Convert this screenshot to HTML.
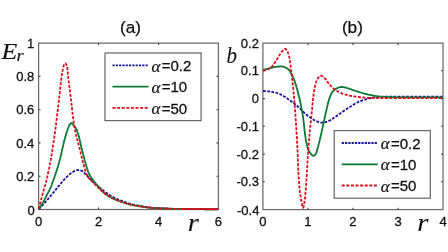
<!DOCTYPE html>
<html><head><meta charset="utf-8"><title>Figure</title>
<style>
html,body{margin:0;padding:0;background:#fff;}
body{width:448px;height:252px;overflow:hidden;}
svg{display:block;}
.tk{font-family:"Liberation Sans",sans-serif;font-size:13px;fill:#111;stroke:#111;stroke-width:.3px;}
.lg{font-family:"Liberation Sans",sans-serif;font-size:15px;fill:#111;stroke:#111;stroke-width:.3px;}
.al{font-family:"Liberation Serif",serif;font-style:italic;font-size:17px;fill:#111;stroke:#111;stroke-width:.2px;}
.tt{font-family:"Liberation Sans",sans-serif;font-size:17.2px;fill:#111;stroke:#111;stroke-width:.25px;}
.mi{font-family:"Liberation Serif",serif;font-style:italic;fill:#111;stroke:#111;stroke-width:.1px;}
</style></head><body>
<svg width="448" height="252" viewBox="0 0 448 252">
<rect width="448" height="252" fill="#fff"/>
<rect x="38.6" y="43.1" width="179.8" height="166.4" fill="none" stroke="#6a6a6a" stroke-width="1.25"/>
<path d="M98.5,209.5v-1.9 M98.5,43.1v1.9 M158.5,209.5v-1.9 M158.5,43.1v1.9 M38.6,176.2h1.9 M218.4,176.2h-1.9 M38.6,142.9h1.9 M218.4,142.9h-1.9 M38.6,109.7h1.9 M218.4,109.7h-1.9 M38.6,76.4h1.9 M218.4,76.4h-1.9 " stroke="#444" stroke-width="1.1" fill="none"/>

<path d="M38.8,209.3 L39.3,208.8 L39.8,208.3 L40.2,207.8 L40.7,207.2 L41.2,206.7 L41.7,206.2 L42.2,205.7 L42.6,205.2 L43.1,204.6 L43.6,204.1 L44.0,203.6 L44.5,203.1 L45.0,202.6 L45.4,202.0 L45.9,201.5 L46.4,201.0 L46.8,200.4 L47.3,199.9 L47.8,199.4 L48.2,198.8 L48.7,198.3 L49.1,197.8 L49.6,197.2 L50.0,196.7 L50.5,196.2 L50.9,195.6 L51.4,195.1 L51.8,194.5 L52.3,194.0 L52.7,193.4 L53.2,192.9 L53.6,192.3 L54.0,191.8 L54.5,191.2 L54.9,190.7 L55.4,190.2 L55.8,189.6 L56.3,189.1 L56.7,188.5 L57.2,188.0 L57.6,187.4 L58.0,186.9 L58.5,186.3 L58.9,185.8 L59.4,185.3 L59.8,184.7 L60.3,184.2 L60.7,183.6 L61.2,183.1 L61.6,182.5 L62.1,182.0 L62.5,181.4 L63.0,180.9 L63.4,180.4 L63.9,179.8 L64.4,179.3 L64.9,178.8 L65.3,178.3 L65.8,177.8 L66.3,177.3 L66.8,176.8 L67.3,176.3 L67.8,175.8 L68.4,175.3 L68.9,174.8 L69.4,174.4 L70.0,174.0 L70.6,173.6 L71.1,173.2 L71.7,172.7 L72.3,172.3 L73.0,171.9 L73.6,171.5 L74.2,171.1 L74.9,170.8 L75.5,170.6 L76.2,170.4 L76.8,170.2 L77.5,170.2 L78.2,170.2 L78.9,170.3 L79.7,170.4 L80.4,170.5 L81.0,170.6 L81.6,170.8 L82.2,171.1 L82.8,171.5 L83.3,172.0 L83.9,172.5 L84.4,173.0 L84.9,173.6 L85.4,174.1 L86.0,174.5 L86.5,175.0 L87.0,175.5 L87.5,176.0 L87.9,176.5 L88.4,177.1 L88.9,177.6 L89.4,178.1 L89.8,178.6 L90.3,179.2 L90.8,179.7 L91.3,180.2 L91.8,180.7 L92.3,181.2 L92.8,181.6 L93.3,182.1 L93.8,182.6 L94.4,183.0 L94.9,183.5 L95.4,184.0 L96.0,184.4 L96.5,184.9 L97.1,185.3 L97.6,185.8 L98.1,186.2 L98.7,186.7 L99.2,187.1 L99.8,187.6 L100.3,188.0 L100.9,188.5 L101.4,188.9 L101.9,189.4 L102.5,189.8 L103.0,190.2 L103.6,190.7 L104.2,191.1 L104.7,191.5 L105.3,191.9 L105.8,192.4 L106.4,192.8 L107.0,193.2 L107.5,193.6 L108.1,194.1 L108.7,194.5 L109.3,194.8 L109.9,195.2 L110.5,195.6 L111.1,195.9 L111.7,196.3 L112.3,196.6 L112.9,196.9 L113.5,197.3 L114.2,197.6 L114.8,197.9 L115.4,198.2 L116.1,198.5 L116.7,198.8 L117.4,199.1 L118.0,199.4 L118.7,199.6 L119.3,199.9 L120.0,200.2 L120.6,200.4 L121.3,200.7 L121.9,201.0 L122.6,201.2 L123.2,201.5 L123.9,201.7 L124.6,202.0 L125.2,202.2 L125.9,202.5 L126.6,202.7 L127.2,202.9 L127.9,203.1 L128.6,203.3 L129.3,203.5 L129.9,203.7 L130.6,203.9 L131.3,204.1 L132.0,204.3 L132.6,204.4 L133.3,204.6 L134.0,204.7 L134.7,204.9 L135.4,205.0 L136.1,205.2 L136.7,205.3 L137.4,205.5 L138.1,205.6 L138.8,205.7 L139.5,205.9 L140.2,206.0 L140.9,206.1 L141.6,206.2 L142.3,206.4 L143.0,206.5 L143.7,206.6 L144.4,206.7 L145.1,206.8 L145.8,206.9 L146.5,207.0 L147.2,207.1 L147.9,207.2 L148.6,207.3 L149.3,207.4 L150.0,207.4 L150.7,207.5 L151.4,207.6 L152.1,207.7 L152.8,207.7 L153.5,207.8 L154.2,207.8 L154.9,207.9 L155.6,207.9 L156.3,208.0 L157.0,208.0 L157.7,208.0 L158.4,208.1 L159.1,208.1 L159.8,208.2 L160.5,208.2 L161.2,208.2 L161.9,208.3 L162.6,208.3 L163.3,208.4 L164.0,208.4 L164.7,208.4 L165.4,208.5 L166.1,208.5 L166.8,208.5 L167.5,208.5 L168.2,208.6 L168.9,208.6 L169.6,208.6 L170.3,208.7 L171.1,208.7 L171.8,208.7 L172.5,208.7 L173.2,208.8 L173.9,208.8 L174.6,208.8 L175.3,208.8 L176.0,208.8 L176.7,208.8 L177.4,208.9 L178.1,208.9 L178.8,208.9 L179.5,208.9 L180.2,208.9 L180.9,208.9 L181.6,208.9 L182.3,208.9 L183.0,208.9 L183.7,208.9 L184.4,209.0 L185.1,209.0 L185.8,209.0 L186.5,209.0 L187.2,209.0 L187.9,209.0 L188.6,209.0 L189.3,209.0 L190.1,209.0 L190.8,209.0 L191.5,209.0 L192.2,209.1 L192.9,209.1 L193.6,209.1 L194.3,209.1 L195.0,209.1 L195.7,209.1 L196.4,209.1 L197.1,209.1 L197.8,209.1 L198.5,209.1 L199.2,209.1 L199.9,209.1 L200.6,209.1 L201.3,209.1 L202.0,209.1 L202.7,209.1 L203.4,209.1 L204.1,209.2 L204.8,209.2 L205.5,209.2 L206.2,209.2 L206.9,209.2 L207.6,209.2 L208.3,209.2 L209.0,209.2 L209.8,209.2 L210.5,209.2 L211.2,209.2 L211.9,209.2 L212.6,209.2 L213.3,209.2 L214.0,209.2 L214.7,209.2 L215.4,209.2 L216.1,209.2 L216.8,209.2 L217.5,209.2 L218.2,209.2" stroke="#14149a" stroke-width="1.8" stroke-dasharray="2.8 1.4" fill="none" stroke-linejoin="round"/>
<path d="M38.8,209.0 L39.2,208.4 L39.6,207.8 L40.0,207.3 L40.4,206.7 L40.8,206.1 L41.2,205.5 L41.5,204.9 L41.9,204.3 L42.3,203.7 L42.6,203.1 L43.0,202.5 L43.3,201.9 L43.7,201.3 L44.0,200.7 L44.4,200.0 L44.7,199.4 L45.0,198.8 L45.3,198.2 L45.7,197.5 L46.0,196.9 L46.3,196.3 L46.6,195.7 L46.9,195.0 L47.2,194.4 L47.6,193.8 L47.9,193.2 L48.2,192.5 L48.5,191.9 L48.8,191.3 L49.1,190.6 L49.5,190.0 L49.8,189.4 L50.1,188.7 L50.3,188.1 L50.6,187.4 L50.9,186.8 L51.2,186.1 L51.4,185.5 L51.7,184.8 L51.9,184.2 L52.1,183.5 L52.4,182.9 L52.6,182.2 L52.9,181.5 L53.1,180.9 L53.3,180.2 L53.6,179.5 L53.8,178.9 L54.0,178.2 L54.3,177.6 L54.5,176.9 L54.7,176.2 L55.0,175.6 L55.2,174.9 L55.4,174.2 L55.7,173.6 L55.9,172.9 L56.1,172.2 L56.3,171.6 L56.6,170.9 L56.8,170.2 L57.0,169.6 L57.2,168.9 L57.4,168.2 L57.6,167.5 L57.8,166.9 L58.0,166.2 L58.2,165.5 L58.4,164.9 L58.6,164.2 L58.8,163.5 L59.0,162.8 L59.2,162.1 L59.4,161.5 L59.5,160.8 L59.7,160.1 L59.9,159.4 L60.1,158.7 L60.2,158.1 L60.4,157.4 L60.6,156.7 L60.7,156.0 L60.9,155.3 L61.0,154.6 L61.2,153.9 L61.4,153.2 L61.5,152.6 L61.7,151.9 L61.8,151.2 L62.0,150.5 L62.2,149.8 L62.3,149.1 L62.5,148.4 L62.6,147.7 L62.8,147.1 L62.9,146.4 L63.1,145.7 L63.3,145.0 L63.4,144.3 L63.6,143.6 L63.7,142.9 L63.9,142.3 L64.1,141.6 L64.2,140.9 L64.4,140.2 L64.6,139.5 L64.8,138.8 L65.0,138.2 L65.1,137.5 L65.3,136.8 L65.5,136.1 L65.7,135.5 L65.9,134.8 L66.1,134.1 L66.3,133.4 L66.5,132.8 L66.7,132.1 L66.9,131.4 L67.1,130.8 L67.4,130.1 L67.6,129.5 L67.8,128.8 L68.1,128.1 L68.3,127.4 L68.6,126.8 L68.9,126.1 L69.2,125.5 L69.5,124.9 L70.0,124.3 L70.5,123.7 L71.0,123.2 L71.5,123.1 L72.1,123.4 L72.6,123.9 L73.1,124.6 L73.6,125.1 L74.1,125.7 L74.5,126.2 L74.9,126.8 L75.3,127.4 L75.7,128.0 L76.0,128.6 L76.4,129.3 L76.7,129.9 L76.9,130.5 L77.2,131.1 L77.4,131.8 L77.6,132.4 L77.9,133.1 L78.1,133.7 L78.3,134.4 L78.5,135.1 L78.7,135.7 L78.9,136.4 L79.0,137.1 L79.2,137.8 L79.4,138.5 L79.5,139.2 L79.7,139.8 L79.9,140.5 L80.0,141.2 L80.2,141.9 L80.3,142.6 L80.5,143.3 L80.7,144.0 L80.8,144.7 L81.0,145.4 L81.1,146.1 L81.3,146.8 L81.4,147.5 L81.6,148.2 L81.8,148.9 L81.9,149.6 L82.1,150.3 L82.3,150.9 L82.5,151.6 L82.6,152.3 L82.8,153.0 L83.0,153.7 L83.2,154.3 L83.3,155.0 L83.5,155.7 L83.7,156.4 L83.9,157.1 L84.0,157.8 L84.2,158.4 L84.4,159.1 L84.6,159.8 L84.7,160.5 L84.9,161.2 L85.1,161.8 L85.3,162.5 L85.5,163.2 L85.7,163.9 L85.9,164.5 L86.1,165.2 L86.3,165.9 L86.5,166.6 L86.7,167.2 L86.9,167.9 L87.1,168.6 L87.3,169.3 L87.6,169.9 L87.8,170.6 L88.0,171.3 L88.3,171.9 L88.5,172.6 L88.8,173.2 L89.1,173.8 L89.4,174.5 L89.7,175.1 L90.0,175.7 L90.4,176.3 L90.8,176.9 L91.2,177.5 L91.6,178.1 L92.0,178.6 L92.4,179.2 L92.8,179.8 L93.2,180.4 L93.7,180.9 L94.1,181.5 L94.5,182.1 L94.9,182.6 L95.3,183.2 L95.8,183.7 L96.2,184.3 L96.7,184.8 L97.1,185.4 L97.6,185.9 L98.0,186.5 L98.5,187.0 L98.9,187.5 L99.4,188.0 L99.9,188.6 L100.3,189.1 L100.8,189.6 L101.3,190.1 L101.8,190.6 L102.3,191.1 L102.8,191.6 L103.3,192.1 L103.8,192.6 L104.3,193.0 L104.9,193.5 L105.4,193.9 L106.0,194.3 L106.6,194.7 L107.2,195.1 L107.8,195.5 L108.4,195.9 L109.0,196.2 L109.6,196.6 L110.2,196.9 L110.8,197.3 L111.4,197.6 L112.1,197.9 L112.7,198.2 L113.3,198.5 L114.0,198.8 L114.6,199.1 L115.3,199.4 L115.9,199.7 L116.5,200.0 L117.2,200.3 L117.9,200.5 L118.5,200.8 L119.2,201.0 L119.8,201.2 L120.5,201.5 L121.1,201.7 L121.8,202.0 L122.5,202.2 L123.1,202.4 L123.8,202.6 L124.5,202.9 L125.2,203.1 L125.8,203.3 L126.5,203.5 L127.2,203.7 L127.9,203.9 L128.5,204.1 L129.2,204.3 L129.9,204.4 L130.6,204.6 L131.3,204.8 L132.0,204.9 L132.6,205.0 L133.3,205.2 L134.0,205.3 L134.7,205.4 L135.4,205.6 L136.1,205.7 L136.8,205.8 L137.5,205.9 L138.1,206.1 L138.8,206.2 L139.5,206.3 L140.2,206.4 L140.9,206.5 L141.6,206.6 L142.3,206.7 L143.0,206.8 L143.7,206.9 L144.4,207.0 L145.1,207.1 L145.8,207.2 L146.5,207.3 L147.2,207.4 L147.9,207.5 L148.6,207.5 L149.3,207.6 L150.0,207.7 L150.7,207.8 L151.4,207.8 L152.1,207.9 L152.8,207.9 L153.5,208.0 L154.2,208.0 L154.9,208.1 L155.6,208.1 L156.3,208.1 L157.0,208.2 L157.7,208.2 L158.4,208.3 L159.1,208.3 L159.8,208.3 L160.5,208.4 L161.2,208.4 L161.9,208.4 L162.6,208.5 L163.3,208.5 L164.1,208.5 L164.8,208.6 L165.5,208.6 L166.2,208.6 L166.9,208.6 L167.6,208.7 L168.3,208.7 L169.0,208.7 L169.7,208.8 L170.4,208.8 L171.1,208.8 L171.8,208.8 L172.5,208.8 L173.2,208.9 L173.9,208.9 L174.6,208.9 L175.3,208.9 L176.0,208.9 L176.7,208.9 L177.4,209.0 L178.1,209.0 L178.8,209.0 L179.5,209.0 L180.2,209.0 L180.9,209.0 L181.6,209.0 L182.3,209.0 L183.0,209.0 L183.7,209.0 L184.4,209.1 L185.1,209.1 L185.9,209.1 L186.6,209.1 L187.3,209.1 L188.0,209.1 L188.7,209.1 L189.4,209.1 L190.1,209.1 L190.8,209.1 L191.5,209.1 L192.2,209.1 L192.9,209.2 L193.6,209.2 L194.3,209.2 L195.0,209.2 L195.7,209.2 L196.4,209.2 L197.1,209.2 L197.8,209.2 L198.5,209.2 L199.2,209.2 L199.9,209.2 L200.6,209.2 L201.3,209.2 L202.0,209.2 L202.7,209.2 L203.4,209.2 L204.1,209.3 L204.8,209.3 L205.5,209.3 L206.2,209.3 L206.9,209.3 L207.6,209.3 L208.4,209.3 L209.1,209.3 L209.8,209.3 L210.5,209.3 L211.2,209.3 L211.9,209.3 L212.6,209.3 L213.3,209.3 L214.0,209.3 L214.7,209.3 L215.4,209.3 L216.1,209.3 L216.8,209.3 L217.5,209.3 L218.2,209.3" stroke="#0b7a35" stroke-width="1.8" fill="none" stroke-linejoin="round"/>
<path d="M38.8,208.8 L39.0,208.1 L39.1,207.4 L39.3,206.8 L39.5,206.1 L39.6,205.4 L39.8,204.7 L40.0,204.0 L40.2,203.3 L40.3,202.7 L40.5,202.0 L40.7,201.3 L40.9,200.6 L41.0,199.9 L41.2,199.3 L41.4,198.6 L41.6,197.9 L41.8,197.2 L42.0,196.6 L42.2,195.9 L42.3,195.2 L42.5,194.5 L42.7,193.9 L42.9,193.2 L43.1,192.5 L43.3,191.8 L43.5,191.1 L43.6,190.5 L43.8,189.8 L44.0,189.1 L44.2,188.4 L44.4,187.8 L44.6,187.1 L44.8,186.4 L45.0,185.7 L45.2,185.1 L45.4,184.4 L45.5,183.7 L45.7,183.0 L45.9,182.3 L46.1,181.7 L46.3,181.0 L46.4,180.3 L46.6,179.6 L46.8,178.9 L46.9,178.3 L47.1,177.6 L47.3,176.9 L47.4,176.2 L47.6,175.5 L47.7,174.8 L47.9,174.2 L48.0,173.5 L48.2,172.8 L48.3,172.1 L48.5,171.4 L48.6,170.7 L48.8,170.0 L48.9,169.3 L49.1,168.7 L49.2,168.0 L49.4,167.3 L49.5,166.6 L49.6,165.9 L49.7,165.2 L49.9,164.5 L50.0,163.8 L50.1,163.1 L50.3,162.5 L50.4,161.8 L50.5,161.1 L50.6,160.4 L50.8,159.7 L50.9,159.0 L51.0,158.3 L51.1,157.6 L51.2,156.9 L51.4,156.2 L51.5,155.5 L51.6,154.8 L51.7,154.1 L51.8,153.5 L51.9,152.8 L52.0,152.1 L52.2,151.4 L52.3,150.7 L52.4,150.0 L52.5,149.3 L52.6,148.6 L52.7,147.9 L52.8,147.2 L52.9,146.5 L53.0,145.8 L53.1,145.1 L53.2,144.4 L53.3,143.7 L53.4,143.0 L53.5,142.3 L53.7,141.6 L53.8,141.0 L53.9,140.3 L54.0,139.6 L54.1,138.9 L54.2,138.2 L54.3,137.5 L54.4,136.8 L54.5,136.1 L54.6,135.4 L54.7,134.7 L54.7,134.0 L54.8,133.3 L54.9,132.6 L55.0,131.9 L55.1,131.2 L55.2,130.5 L55.3,129.8 L55.4,129.1 L55.5,128.4 L55.6,127.7 L55.7,127.0 L55.8,126.3 L55.9,125.6 L56.0,125.0 L56.1,124.3 L56.1,123.6 L56.2,122.9 L56.3,122.2 L56.4,121.5 L56.5,120.8 L56.6,120.1 L56.7,119.4 L56.7,118.7 L56.8,118.0 L56.9,117.3 L57.0,116.6 L57.1,115.9 L57.2,115.2 L57.2,114.5 L57.3,113.8 L57.4,113.1 L57.5,112.4 L57.6,111.7 L57.6,111.0 L57.7,110.3 L57.8,109.6 L57.9,108.9 L58.0,108.2 L58.0,107.5 L58.1,106.8 L58.2,106.1 L58.3,105.4 L58.4,104.7 L58.4,104.0 L58.5,103.3 L58.6,102.6 L58.7,101.9 L58.8,101.2 L58.8,100.5 L58.9,99.8 L59.0,99.1 L59.1,98.4 L59.2,97.7 L59.2,97.0 L59.3,96.3 L59.4,95.6 L59.5,94.9 L59.6,94.3 L59.7,93.6 L59.7,92.9 L59.8,92.2 L59.9,91.5 L60.0,90.8 L60.0,90.1 L60.1,89.4 L60.2,88.7 L60.3,88.0 L60.3,87.3 L60.4,86.6 L60.5,85.9 L60.6,85.2 L60.7,84.5 L60.7,83.8 L60.8,83.1 L60.9,82.4 L61.0,81.7 L61.1,81.0 L61.1,80.3 L61.2,79.6 L61.3,78.9 L61.4,78.2 L61.5,77.5 L61.6,76.8 L61.7,76.1 L61.8,75.4 L61.9,74.7 L62.0,74.0 L62.1,73.3 L62.2,72.6 L62.3,71.9 L62.5,71.3 L62.6,70.6 L62.7,69.9 L62.9,69.2 L63.0,68.5 L63.2,67.8 L63.3,67.1 L63.5,66.4 L63.7,65.7 L63.9,65.1 L64.2,64.5 L64.7,63.8 L65.2,63.3 L65.7,63.5 L66.1,64.2 L66.5,64.8 L66.7,65.5 L66.9,66.1 L67.0,66.8 L67.2,67.5 L67.3,68.2 L67.4,69.0 L67.5,69.6 L67.6,70.3 L67.6,71.0 L67.7,71.7 L67.8,72.4 L67.8,73.1 L67.9,73.8 L68.0,74.5 L68.0,75.2 L68.1,75.9 L68.2,76.6 L68.2,77.3 L68.3,78.0 L68.4,78.7 L68.5,79.4 L68.6,80.1 L68.7,80.8 L68.7,81.5 L68.8,82.2 L68.9,82.9 L69.0,83.6 L69.1,84.3 L69.2,85.0 L69.2,85.7 L69.3,86.4 L69.4,87.1 L69.5,87.8 L69.6,88.5 L69.7,89.2 L69.8,89.9 L69.9,90.6 L70.0,91.3 L70.0,92.0 L70.1,92.7 L70.2,93.4 L70.3,94.1 L70.4,94.8 L70.5,95.5 L70.6,96.2 L70.7,96.9 L70.7,97.6 L70.8,98.3 L70.9,99.0 L71.0,99.7 L71.1,100.3 L71.1,101.0 L71.2,101.7 L71.3,102.4 L71.4,103.1 L71.5,103.8 L71.6,104.5 L71.6,105.2 L71.7,105.9 L71.8,106.6 L71.9,107.3 L72.0,108.0 L72.0,108.7 L72.1,109.4 L72.2,110.1 L72.3,110.8 L72.4,111.5 L72.4,112.2 L72.5,112.9 L72.6,113.6 L72.7,114.3 L72.8,115.0 L72.9,115.7 L73.0,116.4 L73.1,117.1 L73.2,117.8 L73.2,118.5 L73.3,119.2 L73.4,119.9 L73.5,120.6 L73.6,121.3 L73.7,122.0 L73.8,122.7 L73.9,123.4 L74.0,124.1 L74.1,124.8 L74.2,125.5 L74.4,126.1 L74.5,126.8 L74.6,127.5 L74.7,128.2 L74.8,128.9 L74.9,129.6 L75.1,130.3 L75.2,131.0 L75.3,131.7 L75.5,132.3 L75.6,133.0 L75.7,133.7 L75.9,134.4 L76.1,135.1 L76.2,135.8 L76.4,136.4 L76.6,137.1 L76.7,137.8 L76.9,138.5 L77.1,139.2 L77.3,139.8 L77.5,140.5 L77.6,141.2 L77.8,141.9 L78.0,142.6 L78.2,143.2 L78.4,143.9 L78.6,144.6 L78.8,145.3 L78.9,146.0 L79.1,146.6 L79.3,147.3 L79.5,148.0 L79.7,148.7 L79.8,149.4 L80.0,150.0 L80.2,150.7 L80.3,151.4 L80.5,152.1 L80.7,152.8 L80.8,153.5 L81.0,154.1 L81.2,154.8 L81.3,155.5 L81.5,156.2 L81.6,156.9 L81.8,157.6 L82.0,158.2 L82.1,158.9 L82.3,159.6 L82.5,160.3 L82.6,161.0 L82.8,161.7 L83.0,162.3 L83.2,163.0 L83.3,163.7 L83.5,164.4 L83.7,165.0 L83.9,165.7 L84.1,166.4 L84.3,167.1 L84.5,167.8 L84.6,168.5 L84.8,169.1 L85.0,169.8 L85.2,170.5 L85.4,171.2 L85.7,171.8 L85.9,172.5 L86.1,173.1 L86.4,173.8 L86.7,174.4 L87.0,175.0 L87.3,175.7 L87.7,176.3 L88.0,176.9 L88.4,177.5 L88.8,178.1 L89.3,178.6 L89.7,179.2 L90.2,179.7 L90.7,180.2 L91.2,180.7 L91.7,181.1 L92.2,181.6 L92.7,182.1 L93.2,182.6 L93.7,183.1 L94.2,183.6 L94.7,184.1 L95.2,184.6 L95.7,185.1 L96.2,185.6 L96.7,186.0 L97.2,186.5 L97.7,187.0 L98.2,187.5 L98.7,188.0 L99.3,188.5 L99.8,189.0 L100.3,189.5 L100.8,190.0 L101.3,190.5 L101.8,191.0 L102.3,191.5 L102.8,191.9 L103.3,192.4 L103.8,192.9 L104.3,193.3 L104.9,193.8 L105.5,194.2 L106.0,194.6 L106.6,195.0 L107.2,195.4 L107.8,195.7 L108.4,196.1 L109.0,196.5 L109.6,196.8 L110.2,197.1 L110.9,197.5 L111.5,197.8 L112.1,198.1 L112.8,198.4 L113.4,198.7 L114.0,199.0 L114.7,199.2 L115.3,199.5 L116.0,199.8 L116.6,200.1 L117.3,200.3 L117.9,200.6 L118.6,200.8 L119.3,201.0 L119.9,201.3 L120.6,201.5 L121.2,201.8 L121.9,202.0 L122.6,202.2 L123.2,202.4 L123.9,202.7 L124.6,202.9 L125.3,203.1 L125.9,203.3 L126.6,203.5 L127.3,203.7 L128.0,203.9 L128.6,204.1 L129.3,204.3 L130.0,204.5 L130.7,204.6 L131.4,204.8 L132.0,204.9 L132.7,205.1 L133.4,205.2 L134.1,205.3 L134.8,205.5 L135.5,205.6 L136.2,205.7 L136.9,205.8 L137.5,206.0 L138.2,206.1 L138.9,206.2 L139.6,206.3 L140.3,206.4 L141.0,206.5 L141.7,206.6 L142.4,206.7 L143.1,206.8 L143.8,206.9 L144.5,207.0 L145.2,207.1 L145.9,207.2 L146.6,207.3 L147.3,207.4 L148.0,207.5 L148.7,207.6 L149.4,207.6 L150.1,207.7 L150.8,207.8 L151.5,207.8 L152.2,207.9 L152.9,207.9 L153.6,208.0 L154.3,208.0 L155.0,208.1 L155.7,208.1 L156.4,208.1 L157.1,208.2 L157.8,208.2 L158.5,208.3 L159.2,208.3 L159.9,208.3 L160.6,208.4 L161.3,208.4 L162.0,208.4 L162.7,208.5 L163.4,208.5 L164.1,208.5 L164.8,208.6 L165.5,208.6 L166.2,208.6 L166.9,208.7 L167.6,208.7 L168.3,208.7 L169.0,208.7 L169.7,208.8 L170.4,208.8 L171.1,208.8 L171.8,208.8 L172.5,208.8 L173.2,208.9 L173.9,208.9 L174.6,208.9 L175.4,208.9 L176.1,208.9 L176.8,208.9 L177.5,209.0 L178.2,209.0 L178.9,209.0 L179.6,209.0 L180.3,209.0 L181.0,209.0 L181.7,209.0 L182.4,209.0 L183.1,209.0 L183.8,209.1 L184.5,209.1 L185.2,209.1 L185.9,209.1 L186.6,209.1 L187.3,209.1 L188.0,209.1 L188.7,209.1 L189.4,209.1 L190.1,209.1 L190.8,209.1 L191.5,209.1 L192.2,209.1 L192.9,209.2 L193.6,209.2 L194.3,209.2 L195.0,209.2 L195.7,209.2 L196.4,209.2 L197.1,209.2 L197.8,209.2 L198.5,209.2 L199.2,209.2 L199.9,209.2 L200.6,209.2 L201.3,209.2 L202.0,209.2 L202.7,209.2 L203.4,209.2 L204.1,209.3 L204.9,209.3 L205.6,209.3 L206.3,209.3 L207.0,209.3 L207.7,209.3 L208.4,209.3 L209.1,209.3 L209.8,209.3 L210.5,209.3 L211.2,209.3 L211.9,209.3 L212.6,209.3 L213.3,209.3 L214.0,209.3 L214.7,209.3 L215.4,209.3 L216.1,209.3 L216.8,209.3 L217.5,209.3 L218.2,209.3" stroke="#dc0f1c" stroke-width="1.8" stroke-dasharray="3 1.5" fill="none" stroke-linejoin="round"/>
<path d="M184,209.2H218.2" stroke="#c8141c" stroke-width="1.7" fill="none"/>
<rect x="105" y="53" width="96.1" height="67.6" fill="#fff" stroke="#6a6a6a" stroke-width="1.25"/>
<path d="M112.5,65.4h36" stroke="#14149a" stroke-width="1.8" stroke-dasharray="2.2 1.1" fill="none"/>
<text transform="translate(151.6,71.5) scale(1.0,1)" class="al">α</text>
<text x="161.7" y="71.1" class="lg">=0.2</text>
<path d="M112.5,86.7h36" stroke="#0b7a35" stroke-width="1.8" fill="none"/>
<text transform="translate(151.6,92.8) scale(1.0,1)" class="al">α</text>
<text x="161.7" y="92.4" class="lg">=10</text>
<path d="M112.5,107.9h36" stroke="#dc0f1c" stroke-width="1.8" stroke-dasharray="3 1.6" fill="none"/>
<text transform="translate(151.6,114.0) scale(1.0,1)" class="al">α</text>
<text x="161.7" y="113.6" class="lg">=50</text>

<text x="34.8" y="214.8" class="tk" text-anchor="end">0</text>
<text x="34.3" y="180.8" class="tk" text-anchor="end">0.2</text>
<text x="34.3" y="147.5" class="tk" text-anchor="end">0.4</text>
<text x="34.3" y="114.3" class="tk" text-anchor="end">0.6</text>
<text x="34.3" y="81.0" class="tk" text-anchor="end">0.8</text>
<text x="34.3" y="47.7" class="tk" text-anchor="end">1</text>
<text x="38.6" y="225.5" class="tk" text-anchor="middle">0</text>
<text x="98.5" y="225.5" class="tk" text-anchor="middle">2</text>
<text x="158.5" y="225.5" class="tk" text-anchor="middle">4</text>
<text x="218.4" y="225.5" class="tk" text-anchor="middle">6</text>
<text x="130.5" y="32.8" class="tt" text-anchor="middle">(a)</text>
<text transform="translate(1.6,58.8) scale(1.1,1)" class="mi" font-size="23.5">E</text>
<text transform="translate(16.6,61.3) scale(1.12,1)" class="mi" font-size="16.5">r</text>
<text transform="translate(187.8,231) scale(1.1,1)" class="mi" font-size="26">r</text>
<rect x="262.9" y="43.1" width="180.1" height="166.5" fill="none" stroke="#6a6a6a" stroke-width="1.25"/>
<path d="M307.9,209.6v-1.9 M307.9,43.1v1.9 M352.9,209.6v-1.9 M352.9,43.1v1.9 M398.0,209.6v-1.9 M398.0,43.1v1.9 M262.9,181.8h1.9 M443.0,181.8h-1.9 M262.9,154.1h1.9 M443.0,154.1h-1.9 M262.9,126.3h1.9 M443.0,126.3h-1.9 M262.9,98.6h1.9 M443.0,98.6h-1.9 M262.9,70.8h1.9 M443.0,70.8h-1.9 " stroke="#444" stroke-width="1.1" fill="none"/>

<path d="M263.0,91.0 L263.7,91.0 L264.4,91.1 L265.1,91.1 L265.8,91.2 L266.5,91.2 L267.2,91.3 L267.9,91.4 L268.6,91.4 L269.3,91.5 L270.0,91.6 L270.7,91.7 L271.4,91.8 L272.1,91.9 L272.8,92.0 L273.5,92.2 L274.2,92.3 L274.9,92.4 L275.6,92.6 L276.2,92.8 L276.9,93.0 L277.6,93.2 L278.2,93.4 L278.9,93.6 L279.5,93.9 L280.2,94.2 L280.8,94.5 L281.4,94.9 L282.0,95.2 L282.7,95.6 L283.3,95.9 L283.9,96.3 L284.5,96.6 L285.1,97.0 L285.7,97.4 L286.3,97.7 L286.9,98.1 L287.4,98.5 L288.0,99.0 L288.6,99.4 L289.1,99.8 L289.7,100.2 L290.3,100.6 L290.8,101.1 L291.4,101.5 L292.0,101.9 L292.5,102.3 L293.1,102.7 L293.7,103.2 L294.2,103.6 L294.8,104.0 L295.3,104.4 L295.9,104.9 L296.4,105.3 L297.0,105.8 L297.5,106.2 L298.1,106.7 L298.6,107.1 L299.1,107.6 L299.6,108.1 L300.1,108.6 L300.6,109.1 L301.1,109.6 L301.6,110.1 L302.1,110.6 L302.6,111.1 L303.1,111.6 L303.6,112.1 L304.1,112.5 L304.6,113.0 L305.2,113.5 L305.7,113.9 L306.2,114.4 L306.8,114.8 L307.3,115.3 L307.9,115.7 L308.5,116.1 L309.0,116.6 L309.6,117.0 L310.2,117.4 L310.7,117.8 L311.3,118.2 L311.9,118.6 L312.5,119.0 L313.1,119.4 L313.7,119.8 L314.3,120.2 L314.9,120.5 L315.5,120.8 L316.1,121.1 L316.8,121.3 L317.4,121.6 L318.1,121.8 L318.8,122.1 L319.5,122.3 L320.2,122.5 L320.9,122.6 L321.6,122.7 L322.2,122.7 L322.9,122.6 L323.6,122.6 L324.3,122.4 L325.0,122.2 L325.7,122.1 L326.4,121.8 L327.1,121.6 L327.7,121.4 L328.4,121.2 L329.0,120.9 L329.6,120.6 L330.2,120.2 L330.9,119.9 L331.5,119.5 L332.1,119.1 L332.6,118.7 L333.2,118.3 L333.8,117.9 L334.4,117.5 L335.0,117.1 L335.6,116.7 L336.2,116.3 L336.7,115.9 L337.3,115.5 L337.9,115.1 L338.4,114.7 L339.0,114.3 L339.6,113.9 L340.2,113.5 L340.7,113.1 L341.3,112.7 L341.9,112.3 L342.5,111.9 L343.0,111.5 L343.6,111.1 L344.2,110.7 L344.8,110.3 L345.4,109.9 L346.0,109.5 L346.5,109.1 L347.1,108.7 L347.7,108.3 L348.3,107.9 L348.9,107.5 L349.5,107.2 L350.1,106.8 L350.7,106.4 L351.2,106.0 L351.8,105.6 L352.4,105.3 L353.0,104.9 L353.7,104.6 L354.3,104.2 L354.9,103.8 L355.5,103.5 L356.1,103.2 L356.7,102.8 L357.3,102.5 L358.0,102.2 L358.6,101.9 L359.3,101.6 L359.9,101.3 L360.6,101.1 L361.2,100.8 L361.9,100.6 L362.5,100.3 L363.2,100.1 L363.9,99.9 L364.5,99.7 L365.2,99.5 L365.9,99.3 L366.6,99.1 L367.2,98.9 L367.9,98.7 L368.6,98.6 L369.3,98.4 L370.0,98.2 L370.7,98.1 L371.3,97.9 L372.0,97.8 L372.7,97.6 L373.4,97.5 L374.1,97.4 L374.8,97.3 L375.5,97.3 L376.2,97.2 L376.9,97.1 L377.6,97.1 L378.3,97.0 L379.0,96.9 L379.7,96.9 L380.4,96.8 L381.1,96.8 L381.8,96.8 L382.5,96.7 L383.2,96.7 L383.9,96.7 L384.6,96.7 L385.3,96.7 L386.0,96.7 L386.7,96.7 L387.4,96.7 L388.1,96.7 L388.9,96.6 L389.6,96.6 L390.3,96.6 L391.0,96.6 L391.7,96.6 L392.4,96.6 L393.1,96.6 L393.8,96.6 L394.5,96.6 L395.2,96.6 L395.9,96.6 L396.6,96.6 L397.3,96.6 L398.0,96.6 L398.7,96.6 L399.4,96.6 L400.1,96.6 L400.8,96.6 L401.5,96.6 L402.2,96.6 L402.9,96.6 L403.6,96.6 L404.3,96.6 L405.0,96.6 L405.7,96.6 L406.4,96.6 L407.1,96.6 L407.8,96.6 L408.5,96.6 L409.2,96.6 L409.9,96.6 L410.7,96.6 L411.4,96.6 L412.1,96.6 L412.8,96.6 L413.5,96.6 L414.2,96.6 L414.9,96.6 L415.6,96.6 L416.3,96.6 L417.0,96.6 L417.7,96.6 L418.4,96.6 L419.1,96.6 L419.8,96.6 L420.5,96.6 L421.2,96.6 L421.9,96.6 L422.6,96.6 L423.3,96.6 L424.0,96.6 L424.7,96.6 L425.4,96.6 L426.1,96.6 L426.8,96.6 L427.5,96.6 L428.2,96.6 L428.9,96.6 L429.6,96.6 L430.3,96.6 L431.0,96.6 L431.7,96.6 L432.5,96.6 L433.2,96.6 L433.9,96.6 L434.6,96.6 L435.3,96.6 L436.0,96.6 L436.7,96.6 L437.4,96.6 L438.1,96.6 L438.8,96.6 L439.5,96.6 L440.2,96.6 L440.9,96.6 L441.6,96.6 L442.3,96.6 L443.0,96.6" stroke="#14149a" stroke-width="1.8" stroke-dasharray="2.8 1.4" fill="none" stroke-linejoin="round"/>
<path d="M263.0,70.0 L263.7,69.8 L264.4,69.6 L265.0,69.5 L265.7,69.3 L266.4,69.1 L267.1,68.9 L267.8,68.8 L268.4,68.6 L269.1,68.4 L269.8,68.2 L270.5,68.1 L271.2,67.9 L271.8,67.7 L272.5,67.5 L273.2,67.4 L273.9,67.2 L274.6,67.0 L275.3,66.9 L276.0,66.8 L276.7,66.7 L277.4,66.6 L278.1,66.6 L278.8,66.5 L279.5,66.5 L280.2,66.4 L280.9,66.4 L281.5,66.4 L282.3,66.5 L283.0,66.7 L283.7,66.9 L284.4,67.1 L285.1,67.4 L285.7,67.7 L286.4,68.0 L286.9,68.3 L287.5,68.7 L288.0,69.0 L288.5,69.5 L288.9,70.0 L289.4,70.5 L289.8,71.1 L290.3,71.8 L290.6,72.4 L291.0,73.0 L291.4,73.7 L291.7,74.3 L292.0,74.9 L292.3,75.5 L292.6,76.1 L292.9,76.8 L293.2,77.4 L293.4,78.0 L293.7,78.7 L294.0,79.3 L294.2,80.0 L294.4,80.7 L294.7,81.3 L294.9,82.0 L295.1,82.7 L295.4,83.4 L295.6,84.0 L295.8,84.7 L296.0,85.4 L296.2,86.1 L296.4,86.8 L296.6,87.5 L296.8,88.1 L297.0,88.8 L297.2,89.5 L297.4,90.2 L297.5,90.8 L297.7,91.5 L297.9,92.2 L298.1,92.9 L298.3,93.5 L298.4,94.2 L298.6,94.9 L298.8,95.6 L298.9,96.3 L299.1,97.0 L299.3,97.6 L299.4,98.3 L299.6,99.0 L299.7,99.7 L299.9,100.4 L300.0,101.1 L300.2,101.8 L300.3,102.4 L300.5,103.1 L300.6,103.8 L300.8,104.5 L300.9,105.2 L301.0,105.9 L301.2,106.6 L301.3,107.3 L301.4,108.0 L301.6,108.7 L301.7,109.3 L301.8,110.0 L302.0,110.7 L302.1,111.4 L302.2,112.1 L302.3,112.8 L302.5,113.5 L302.6,114.2 L302.7,114.9 L302.8,115.6 L302.9,116.3 L303.0,117.0 L303.1,117.7 L303.2,118.4 L303.3,119.1 L303.4,119.8 L303.5,120.5 L303.6,121.2 L303.6,121.9 L303.7,122.6 L303.8,123.4 L303.9,124.1 L304.0,124.8 L304.0,125.5 L304.1,126.2 L304.2,126.9 L304.3,127.6 L304.4,128.3 L304.4,129.0 L304.5,129.8 L304.6,130.5 L304.7,131.2 L304.8,131.9 L304.9,132.6 L304.9,133.3 L305.0,134.0 L305.1,134.7 L305.2,135.4 L305.3,136.1 L305.4,136.8 L305.5,137.5 L305.6,138.2 L305.7,138.9 L305.8,139.5 L306.0,140.2 L306.1,140.9 L306.2,141.6 L306.3,142.3 L306.5,142.9 L306.6,143.6 L306.8,144.3 L306.9,144.9 L307.1,145.6 L307.2,146.2 L307.4,146.9 L307.6,147.5 L307.8,148.2 L308.0,148.8 L308.2,149.5 L308.5,150.2 L308.8,150.8 L309.2,151.4 L309.6,152.1 L310.0,152.7 L310.4,153.2 L310.8,153.8 L311.3,154.3 L311.8,154.9 L312.4,155.4 L312.9,155.8 L313.5,155.9 L314.1,155.7 L314.7,155.2 L315.2,154.6 L315.7,154.0 L316.0,153.4 L316.3,152.8 L316.6,152.2 L316.8,151.5 L317.0,150.8 L317.2,150.1 L317.3,149.4 L317.5,148.7 L317.7,148.0 L317.9,147.4 L318.1,146.7 L318.2,146.0 L318.4,145.3 L318.6,144.6 L318.8,144.0 L318.9,143.3 L319.1,142.6 L319.3,141.9 L319.4,141.2 L319.6,140.6 L319.8,139.9 L319.9,139.2 L320.1,138.5 L320.3,137.8 L320.4,137.1 L320.6,136.5 L320.7,135.8 L320.9,135.1 L321.0,134.4 L321.2,133.7 L321.4,133.0 L321.5,132.4 L321.7,131.7 L321.8,131.0 L322.0,130.3 L322.1,129.6 L322.3,128.9 L322.4,128.2 L322.6,127.5 L322.7,126.9 L322.9,126.2 L323.0,125.5 L323.2,124.8 L323.3,124.1 L323.4,123.4 L323.6,122.7 L323.7,122.0 L323.9,121.4 L324.0,120.7 L324.2,120.0 L324.3,119.3 L324.5,118.6 L324.6,117.9 L324.8,117.2 L325.0,116.6 L325.1,115.9 L325.3,115.2 L325.4,114.5 L325.6,113.8 L325.7,113.1 L325.9,112.4 L326.1,111.8 L326.2,111.1 L326.4,110.4 L326.5,109.7 L326.7,109.0 L326.8,108.3 L327.0,107.7 L327.1,107.0 L327.3,106.3 L327.5,105.6 L327.6,104.9 L327.8,104.2 L327.9,103.5 L328.1,102.9 L328.3,102.2 L328.5,101.5 L328.7,100.8 L328.9,100.2 L329.1,99.5 L329.3,98.8 L329.5,98.1 L329.7,97.5 L329.9,96.8 L330.2,96.2 L330.5,95.5 L330.8,94.9 L331.1,94.2 L331.5,93.6 L331.8,92.9 L332.2,92.3 L332.7,91.7 L333.1,91.1 L333.6,90.6 L334.0,90.2 L334.5,89.8 L335.0,89.4 L335.6,89.1 L336.2,88.7 L336.9,88.4 L337.5,88.0 L338.2,87.7 L338.9,87.5 L339.6,87.3 L340.4,87.1 L341.0,87.0 L341.7,87.0 L342.4,87.0 L343.1,87.1 L343.8,87.2 L344.5,87.4 L345.2,87.5 L345.9,87.7 L346.6,87.9 L347.2,88.1 L347.9,88.3 L348.6,88.5 L349.3,88.7 L349.9,88.9 L350.6,89.1 L351.3,89.4 L351.9,89.6 L352.6,89.8 L353.2,90.1 L353.9,90.3 L354.6,90.6 L355.2,90.8 L355.9,91.0 L356.6,91.2 L357.2,91.4 L357.9,91.6 L358.6,91.9 L359.2,92.1 L359.9,92.3 L360.6,92.5 L361.3,92.7 L361.9,92.9 L362.6,93.1 L363.3,93.3 L364.0,93.5 L364.6,93.7 L365.3,93.9 L366.0,94.1 L366.7,94.2 L367.4,94.4 L368.0,94.5 L368.7,94.6 L369.4,94.8 L370.1,94.9 L370.8,95.1 L371.5,95.2 L372.2,95.3 L372.9,95.5 L373.6,95.6 L374.2,95.7 L374.9,95.8 L375.6,96.0 L376.3,96.1 L377.0,96.2 L377.7,96.3 L378.4,96.4 L379.1,96.5 L379.8,96.6 L380.5,96.6 L381.2,96.7 L381.9,96.8 L382.6,96.8 L383.3,96.9 L384.0,96.9 L384.7,96.9 L385.4,97.0 L386.1,97.0 L386.8,97.0 L387.5,97.0 L388.2,97.1 L388.9,97.1 L389.6,97.1 L390.3,97.1 L391.0,97.1 L391.7,97.2 L392.4,97.2 L393.1,97.2 L393.8,97.2 L394.5,97.2 L395.2,97.2 L395.9,97.3 L396.6,97.3 L397.4,97.3 L398.1,97.3 L398.8,97.3 L399.5,97.3 L400.2,97.3 L400.9,97.3 L401.6,97.3 L402.3,97.3 L403.0,97.3 L403.7,97.3 L404.4,97.3 L405.1,97.3 L405.8,97.3 L406.5,97.3 L407.2,97.3 L407.9,97.3 L408.6,97.3 L409.3,97.3 L410.0,97.3 L410.7,97.3 L411.4,97.3 L412.1,97.3 L412.8,97.4 L413.5,97.4 L414.2,97.4 L414.9,97.4 L415.6,97.4 L416.3,97.4 L417.0,97.4 L417.7,97.4 L418.4,97.4 L419.1,97.4 L419.8,97.4 L420.5,97.4 L421.2,97.4 L421.9,97.4 L422.6,97.4 L423.3,97.4 L424.0,97.4 L424.7,97.4 L425.4,97.4 L426.1,97.4 L426.8,97.4 L427.5,97.4 L428.3,97.4 L429.0,97.4 L429.7,97.4 L430.4,97.4 L431.1,97.4 L431.8,97.4 L432.5,97.4 L433.2,97.4 L433.9,97.4 L434.6,97.4 L435.3,97.4 L436.0,97.4 L436.7,97.4 L437.4,97.4 L438.1,97.4 L438.8,97.4 L439.5,97.4 L440.2,97.4 L440.9,97.4 L441.6,97.4 L442.3,97.4 L443.0,97.4" stroke="#0b7a35" stroke-width="1.8" fill="none" stroke-linejoin="round"/>
<path d="M263.0,70.7 L263.7,70.6 L264.4,70.4 L265.1,70.3 L265.7,70.1 L266.4,69.9 L267.1,69.6 L267.7,69.3 L268.4,69.0 L269.0,68.7 L269.6,68.3 L270.2,68.0 L270.7,67.6 L271.2,67.2 L271.7,66.7 L272.2,66.2 L272.6,65.7 L273.0,65.1 L273.5,64.6 L273.9,64.0 L274.3,63.4 L274.7,62.8 L275.1,62.2 L275.5,61.5 L275.9,60.9 L276.3,60.3 L276.7,59.7 L277.1,59.1 L277.5,58.5 L277.8,57.9 L278.2,57.3 L278.6,56.7 L278.9,56.1 L279.3,55.5 L279.6,54.9 L280.0,54.3 L280.4,53.7 L280.8,53.1 L281.2,52.5 L281.6,52.0 L282.0,51.5 L282.5,50.9 L283.1,50.3 L283.7,49.8 L284.3,49.3 L284.8,49.0 L285.3,48.9 L285.9,49.1 L286.4,49.6 L286.8,50.3 L287.2,51.0 L287.6,51.6 L287.8,52.3 L288.1,52.9 L288.3,53.5 L288.6,54.2 L288.8,54.9 L288.9,55.6 L289.1,56.3 L289.3,57.0 L289.4,57.7 L289.6,58.4 L289.7,59.1 L289.8,59.8 L289.9,60.4 L290.0,61.1 L290.1,61.8 L290.2,62.5 L290.3,63.2 L290.4,63.9 L290.5,64.6 L290.6,65.3 L290.7,66.0 L290.7,66.7 L290.8,67.4 L290.9,68.1 L291.0,68.8 L291.1,69.5 L291.1,70.2 L291.2,70.9 L291.3,71.6 L291.4,72.3 L291.5,73.0 L291.6,73.7 L291.6,74.4 L291.7,75.1 L291.8,75.8 L291.9,76.5 L292.0,77.2 L292.1,77.9 L292.1,78.6 L292.2,79.3 L292.3,80.0 L292.4,80.7 L292.5,81.4 L292.5,82.1 L292.6,82.8 L292.7,83.5 L292.8,84.2 L292.8,84.9 L292.9,85.6 L293.0,86.3 L293.1,87.0 L293.1,87.7 L293.2,88.4 L293.3,89.0 L293.3,89.7 L293.4,90.4 L293.5,91.1 L293.5,91.8 L293.6,92.5 L293.7,93.2 L293.7,93.9 L293.8,94.6 L293.9,95.3 L293.9,96.0 L294.0,96.7 L294.1,97.4 L294.1,98.1 L294.2,98.8 L294.2,99.5 L294.3,100.2 L294.3,100.9 L294.4,101.6 L294.5,102.3 L294.5,103.0 L294.6,103.7 L294.6,104.4 L294.7,105.1 L294.7,105.8 L294.8,106.5 L294.8,107.2 L294.9,107.9 L295.0,108.6 L295.0,109.3 L295.1,110.0 L295.1,110.7 L295.2,111.4 L295.2,112.1 L295.3,112.8 L295.3,113.5 L295.4,114.2 L295.4,114.9 L295.5,115.6 L295.5,116.3 L295.6,117.0 L295.6,117.7 L295.6,118.4 L295.7,119.1 L295.7,119.8 L295.8,120.5 L295.8,121.2 L295.9,121.9 L295.9,122.6 L296.0,123.3 L296.0,124.0 L296.1,124.7 L296.1,125.4 L296.1,126.1 L296.2,126.8 L296.2,127.5 L296.3,128.2 L296.3,128.9 L296.4,129.6 L296.4,130.3 L296.4,131.0 L296.5,131.7 L296.5,132.4 L296.6,133.1 L296.6,133.9 L296.7,134.6 L296.7,135.3 L296.7,136.0 L296.8,136.7 L296.8,137.4 L296.9,138.1 L296.9,138.8 L296.9,139.5 L297.0,140.2 L297.0,140.9 L297.1,141.6 L297.1,142.3 L297.1,143.0 L297.2,143.7 L297.2,144.4 L297.2,145.1 L297.3,145.8 L297.3,146.5 L297.4,147.2 L297.4,147.9 L297.4,148.6 L297.5,149.3 L297.5,150.0 L297.5,150.7 L297.6,151.4 L297.6,152.1 L297.6,152.8 L297.7,153.5 L297.7,154.2 L297.7,154.9 L297.8,155.6 L297.8,156.3 L297.8,157.0 L297.8,157.7 L297.9,158.4 L297.9,159.1 L297.9,159.8 L297.9,160.5 L298.0,161.2 L298.0,161.9 L298.0,162.6 L298.1,163.3 L298.1,164.0 L298.1,164.7 L298.1,165.4 L298.2,166.1 L298.2,166.8 L298.2,167.5 L298.2,168.2 L298.3,168.9 L298.3,169.6 L298.3,170.3 L298.4,171.0 L298.4,171.7 L298.4,172.4 L298.5,173.1 L298.5,173.8 L298.5,174.5 L298.6,175.2 L298.6,175.9 L298.6,176.6 L298.7,177.3 L298.7,178.0 L298.8,178.7 L298.8,179.4 L298.8,180.1 L298.9,180.8 L298.9,181.5 L299.0,182.2 L299.0,182.9 L299.1,183.6 L299.1,184.3 L299.2,185.0 L299.2,185.7 L299.3,186.4 L299.4,187.1 L299.4,187.8 L299.5,188.5 L299.6,189.2 L299.7,189.9 L299.8,190.6 L299.9,191.3 L299.9,192.0 L300.0,192.7 L300.1,193.4 L300.2,194.1 L300.3,194.8 L300.5,195.5 L300.6,196.2 L300.7,196.9 L300.8,197.6 L300.9,198.3 L301.0,199.0 L301.1,199.6 L301.3,200.3 L301.4,201.1 L301.6,202.0 L301.7,202.9 L301.9,203.8 L302.1,204.7 L302.2,205.5 L302.4,206.3 L302.6,206.9 L302.8,207.4 L302.9,207.7 L303.1,207.8 L303.3,207.7 L303.4,207.4 L303.6,206.9 L303.7,206.3 L303.9,205.6 L304.1,204.8 L304.2,203.9 L304.3,203.0 L304.5,202.1 L304.6,201.2 L304.7,200.3 L304.8,199.5 L304.9,198.8 L305.0,198.1 L305.1,197.4 L305.2,196.7 L305.2,196.0 L305.3,195.3 L305.4,194.6 L305.4,193.9 L305.5,193.2 L305.5,192.5 L305.6,191.8 L305.7,191.1 L305.7,190.4 L305.8,189.7 L305.8,189.0 L305.9,188.3 L305.9,187.6 L306.0,186.9 L306.0,186.2 L306.1,185.5 L306.1,184.8 L306.2,184.1 L306.2,183.4 L306.2,182.7 L306.3,182.0 L306.3,181.3 L306.4,180.6 L306.4,179.9 L306.5,179.2 L306.5,178.5 L306.6,177.8 L306.6,177.1 L306.7,176.4 L306.7,175.7 L306.8,175.0 L306.8,174.3 L306.8,173.6 L306.9,172.9 L306.9,172.2 L307.0,171.5 L307.0,170.8 L307.0,170.1 L307.1,169.4 L307.1,168.7 L307.2,168.0 L307.2,167.3 L307.2,166.6 L307.3,165.9 L307.3,165.2 L307.4,164.5 L307.4,163.8 L307.4,163.1 L307.5,162.4 L307.5,161.7 L307.6,161.0 L307.6,160.3 L307.6,159.6 L307.7,158.9 L307.7,158.2 L307.8,157.5 L307.8,156.8 L307.9,156.1 L307.9,155.4 L307.9,154.7 L308.0,154.0 L308.0,153.3 L308.1,152.6 L308.1,151.9 L308.2,151.2 L308.2,150.5 L308.3,149.8 L308.3,149.1 L308.4,148.4 L308.4,147.7 L308.5,147.0 L308.5,146.3 L308.6,145.6 L308.6,144.9 L308.7,144.2 L308.8,143.5 L308.8,142.8 L308.9,142.1 L308.9,141.4 L309.0,140.7 L309.0,140.0 L309.1,139.3 L309.2,138.6 L309.2,137.9 L309.3,137.2 L309.4,136.5 L309.4,135.8 L309.5,135.1 L309.6,134.4 L309.6,133.7 L309.7,133.0 L309.8,132.3 L309.8,131.6 L309.9,130.9 L310.0,130.2 L310.0,129.5 L310.1,128.8 L310.2,128.1 L310.2,127.4 L310.3,126.7 L310.4,126.0 L310.4,125.3 L310.5,124.6 L310.6,123.9 L310.7,123.2 L310.7,122.5 L310.8,121.8 L310.9,121.1 L310.9,120.4 L311.0,119.7 L311.1,119.0 L311.2,118.3 L311.2,117.6 L311.3,116.9 L311.4,116.2 L311.4,115.5 L311.5,114.9 L311.6,114.2 L311.7,113.5 L311.7,112.8 L311.8,112.1 L311.9,111.4 L311.9,110.7 L312.0,110.0 L312.1,109.3 L312.1,108.6 L312.2,107.9 L312.3,107.2 L312.3,106.5 L312.4,105.8 L312.4,105.1 L312.5,104.4 L312.6,103.7 L312.6,102.9 L312.7,102.2 L312.8,101.5 L312.8,100.8 L312.9,100.1 L313.0,99.4 L313.1,98.8 L313.1,98.1 L313.2,97.4 L313.3,96.7 L313.4,96.0 L313.5,95.3 L313.5,94.6 L313.6,93.9 L313.7,93.2 L313.8,92.5 L313.9,91.8 L314.0,91.1 L314.2,90.4 L314.3,89.7 L314.4,89.0 L314.5,88.3 L314.7,87.6 L314.8,86.9 L315.0,86.2 L315.1,85.4 L315.3,84.7 L315.5,84.1 L315.7,83.4 L315.9,82.7 L316.1,82.1 L316.3,81.4 L316.6,80.8 L316.8,80.2 L317.1,79.6 L317.5,79.0 L317.9,78.3 L318.4,77.6 L318.9,77.0 L319.4,76.4 L320.0,76.0 L320.5,75.8 L321.1,75.7 L321.6,75.9 L322.2,76.2 L322.9,76.6 L323.5,77.1 L324.1,77.6 L324.6,78.1 L325.1,78.6 L325.5,79.1 L326.0,79.7 L326.4,80.2 L326.8,80.8 L327.2,81.4 L327.6,82.0 L328.0,82.6 L328.5,83.1 L328.9,83.6 L329.4,84.2 L329.9,84.7 L330.3,85.3 L330.8,85.8 L331.3,86.3 L331.8,86.9 L332.3,87.4 L332.8,87.9 L333.3,88.3 L333.8,88.8 L334.3,89.2 L334.9,89.6 L335.4,90.0 L336.0,90.4 L336.6,90.7 L337.2,91.1 L337.8,91.4 L338.4,91.8 L339.0,92.1 L339.7,92.4 L340.3,92.7 L341.0,93.0 L341.7,93.3 L342.3,93.5 L343.0,93.8 L343.7,94.0 L344.3,94.3 L345.0,94.5 L345.7,94.7 L346.4,94.9 L347.0,95.0 L347.7,95.2 L348.4,95.3 L349.1,95.5 L349.7,95.6 L350.4,95.8 L351.1,95.9 L351.8,96.0 L352.5,96.1 L353.2,96.3 L353.9,96.4 L354.6,96.5 L355.3,96.6 L356.0,96.7 L356.7,96.8 L357.4,96.9 L358.1,96.9 L358.8,97.0 L359.5,97.1 L360.2,97.2 L360.9,97.3 L361.6,97.4 L362.3,97.4 L363.0,97.5 L363.7,97.6 L364.4,97.7 L365.1,97.7 L365.8,97.8 L366.5,97.8 L367.2,97.9 L367.9,97.9 L368.6,97.9 L369.3,97.9 L370.0,97.9 L370.7,98.0 L371.4,98.0 L372.1,98.0 L372.8,98.0 L373.5,98.0 L374.2,98.0 L374.9,98.0 L375.6,98.0 L376.3,98.1 L377.0,98.1 L377.7,98.1 L378.4,98.1 L379.1,98.1 L379.8,98.1 L380.5,98.1 L381.2,98.1 L381.9,98.1 L382.6,98.1 L383.3,98.1 L384.0,98.1 L384.7,98.1 L385.4,98.1 L386.1,98.1 L386.8,98.1 L387.5,98.1 L388.2,98.1 L388.9,98.1 L389.6,98.1 L390.4,98.1 L391.1,98.1 L391.8,98.1 L392.5,98.1 L393.2,98.1 L393.9,98.1 L394.6,98.1 L395.3,98.1 L396.0,98.1 L396.7,98.1 L397.4,98.1 L398.1,98.1 L398.8,98.1 L399.5,98.1 L400.2,98.1 L400.9,98.1 L401.6,98.1 L402.3,98.1 L403.0,98.1 L403.7,98.1 L404.4,98.1 L405.1,98.1 L405.8,98.1 L406.5,98.1 L407.2,98.1 L407.9,98.1 L408.6,98.1 L409.3,98.1 L410.0,98.1 L410.7,98.1 L411.4,98.1 L412.1,98.1 L412.8,98.1 L413.5,98.1 L414.2,98.1 L414.9,98.1 L415.6,98.1 L416.3,98.1 L417.0,98.1 L417.7,98.1 L418.4,98.1 L419.1,98.1 L419.8,98.1 L420.5,98.1 L421.2,98.1 L421.9,98.1 L422.6,98.1 L423.3,98.1 L424.0,98.1 L424.7,98.1 L425.4,98.1 L426.2,98.1 L426.9,98.1 L427.6,98.1 L428.3,98.1 L429.0,98.1 L429.7,98.1 L430.4,98.1 L431.1,98.1 L431.8,98.1 L432.5,98.1 L433.2,98.1 L433.9,98.1 L434.6,98.1 L435.3,98.1 L436.0,98.1 L436.7,98.1 L437.4,98.1 L438.1,98.1 L438.8,98.1 L439.5,98.1 L440.2,98.1 L440.9,98.1 L441.6,98.1 L442.3,98.1 L443.0,98.1" stroke="#dc0f1c" stroke-width="1.8" stroke-dasharray="3 1.5" fill="none" stroke-linejoin="round"/>
<rect x="334.2" y="130.6" width="96.1" height="67.6" fill="#fff" stroke="#6a6a6a" stroke-width="1.25"/>
<path d="M341.7,143.0h36" stroke="#14149a" stroke-width="1.8" stroke-dasharray="2.2 1.1" fill="none"/>
<text transform="translate(380.8,149.1) scale(1.0,1)" class="al">α</text>
<text x="390.9" y="148.7" class="lg">=0.2</text>
<path d="M341.7,164.3h36" stroke="#0b7a35" stroke-width="1.8" fill="none"/>
<text transform="translate(380.8,170.4) scale(1.0,1)" class="al">α</text>
<text x="390.9" y="170.0" class="lg">=10</text>
<path d="M341.7,185.5h36" stroke="#dc0f1c" stroke-width="1.8" stroke-dasharray="3 1.6" fill="none"/>
<text transform="translate(380.8,191.6) scale(1.0,1)" class="al">α</text>
<text x="390.9" y="191.2" class="lg">=50</text>

<text x="259.4" y="214.9" class="tk" text-anchor="end">-0.4</text>
<text x="258.9" y="186.4" class="tk" text-anchor="end">-0.3</text>
<text x="258.9" y="158.7" class="tk" text-anchor="end">-0.2</text>
<text x="258.9" y="130.9" class="tk" text-anchor="end">-0.1</text>
<text x="258.9" y="103.2" class="tk" text-anchor="end">0</text>
<text x="258.9" y="75.4" class="tk" text-anchor="end">0.1</text>
<text x="258.9" y="47.7" class="tk" text-anchor="end">0.2</text>
<text x="262.9" y="225.5" class="tk" text-anchor="middle">0</text>
<text x="307.9" y="225.5" class="tk" text-anchor="middle">1</text>
<text x="352.9" y="225.5" class="tk" text-anchor="middle">2</text>
<text x="398.0" y="225.5" class="tk" text-anchor="middle">3</text>
<text x="443.0" y="225.5" class="tk" text-anchor="middle">4</text>
<text x="352.4" y="32.8" class="tt" text-anchor="middle">(b)</text>
<text transform="translate(226.6,62.7) scale(0.88,1)" class="mi" font-size="23.8">b</text>
<text transform="translate(417.2,230.8) scale(1.1,1)" class="mi" font-size="26">r</text>
</svg>
</body></html>
